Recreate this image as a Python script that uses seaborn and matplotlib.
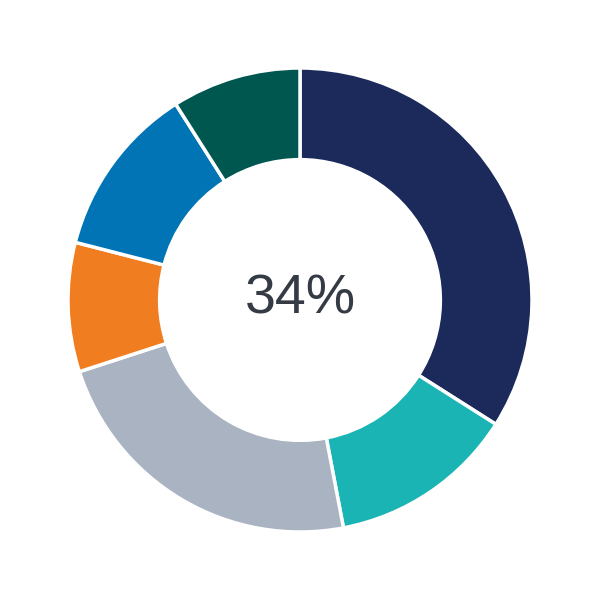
import matplotlib
matplotlib.use('Agg')
import matplotlib.pyplot as plt
import seaborn as sns

# slices clockwise from 12 o'clock
labels = ['Navy', 'Teal', 'Gray', 'Orange', 'Blue', 'Green']
shares = [34, 13, 23, 9, 12, 9]
colors = ['#1b2a5a', '#1ab4b5', '#a9b3c1', '#f07d20', '#0074b5', '#00574f']
center_text = '34%'

sns.set_theme(style='white')
plt.rcParams['font.family'] = ['Liberation Sans', 'DejaVu Sans']

fig = plt.figure(figsize=(6, 6), dpi=100)
ax = fig.add_axes([0, 0, 1, 1])
ax.pie(shares, colors=colors, startangle=90, counterclock=False, radius=1.0,
       wedgeprops=dict(width=0.395, edgecolor='white', linewidth=2.5))
ax.text(0, 0, center_text, ha='center', va='center', fontsize=40, color='#353b45')
lim = 300 / 232
ax.set_xlim(-lim, lim)
ax.set_ylim(-lim, lim)
ax.set_aspect('equal')
ax.axis('off')

fig.savefig('out.png', dpi=100, facecolor='white')
